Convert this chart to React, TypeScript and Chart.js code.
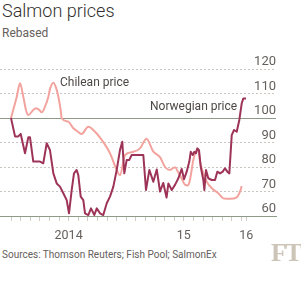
import React, { useEffect, useRef } from 'react';
import { Chart, registerables } from 'chart.js';

Chart.register(...registerables);

// x positions are months since July 2013 (one axis tick per month)
const chileanMonths = [0, 0.6, 0.94, 1.28, 1.56, 1.8, 2.32, 2.6, 2.95, 3.2, 3.54, 3.89, 4.06, 4.41, 4.69, 4.93, 5.17, 5.28, 5.97, 6.49, 6.84, 7.36, 8.05, 8.75, 9.27, 10.31, 11.01, 11.35, 11.88, 12.74, 13.44, 14.11, 14.79, 15.52, 16.04, 16.56, 17.08, 17.4, 17.81, 18.13, 18.44, 18.65, 18.99, 19.34, 19.51, 19.69, 20.03, 20.39, 20.91, 21.59, 22.11, 22.81, 23.51, 23.85, 24.03];
const chileanValues = [100, 108.7, 114.2, 108.7, 103.3, 101.2, 103.3, 104, 103.3, 102.3, 104.6, 108.7, 111.8, 114.4, 112.4, 108.7, 103.3, 99.9, 98.5, 95.8, 94.8, 93.5, 96.4, 94.4, 92, 85.6, 78.8, 76.7, 84.9, 86.2, 87.6, 91.5, 86.5, 84, 80, 78.8, 79.9, 78, 75, 72.7, 72.5, 75, 82.9, 86.9, 87.2, 82.2, 77.4, 74, 71.3, 69.3, 67.2, 67, 67.6, 69.9, 72.2];

const norwegianMonths = [0, 0.42, 0.76, 1.01, 1.46, 1.8, 1.98, 2.32, 3.02, 3.36, 3.72, 4.06, 4.41, 4.76, 5.1, 5.45, 5.8, 6.04, 6.32, 6.56, 6.84, 7.01, 7.26, 7.53, 7.71, 8.05, 8.33, 8.68, 8.93, 9.27, 9.61, 9.97, 10.31, 10.66, 11.01, 11.35, 11.59, 11.8, 12.05, 12.32, 12.57, 13.78, 14.06, 14.41, 14.82, 15.18, 15.52, 15.86, 16.2, 16.39, 16.74, 17.08, 17.43, 17.78, 18.02, 18.3, 18.57, 18.72, 18.93, 19.09, 19.27, 19.41, 19.58, 19.76, 20.03, 20.14, 20.31, 20.55, 20.91, 21.25, 21.49, 21.77, 22.05, 22.29, 22.53, 22.74, 22.99, 23.23, 23.51, 23.78, 24.03, 24.2, 24.48];
const norwegianValues = [100, 92.5, 92.5, 93.5, 85.6, 92.1, 92.1, 82.2, 82.2, 81.5, 89.7, 86.9, 77.4, 73.3, 72, 69.3, 66.5, 61.1, 70.6, 77.4, 78.8, 76.7, 67.9, 66.5, 61.1, 60.4, 63.1, 60.4, 63.1, 61.1, 60.4, 65.2, 67.9, 72, 78.8, 86.9, 90.3, 77.4, 82.9, 82.9, 84.9, 84.9, 70.6, 78.8, 74, 79, 70, 73.5, 67.5, 73.3, 70.6, 72.7, 75.4, 79.2, 75, 78.1, 82.2, 86.2, 84.9, 86.2, 85.6, 87.6, 86.9, 80.1, 74.7, 70.6, 78.8, 75.4, 74.7, 74.7, 78.1, 77.4, 78.1, 79.5, 78.1, 77.4, 93, 95.1, 94.4, 99.2, 106, 108, 108];

const yTickValues = [60, 70, 80, 90, 100, 110, 120];
const xTickMonths = [0, 1, 2, 3, 4, 5, 6, 7, 8, 9, 10, 11, 12, 13, 14, 15, 16, 17, 18, 19, 20, 21, 22, 23, 24, 24.5];
const xLabelMonths = [6, 18, 24.5];
const xLabelTexts = ['2014', '15', '16'];

const FONT = 'Roboto, "Open Sans", sans-serif';
const TEXT_GREY = '#66605c';
const AXIS_GREEN = '#8e9a88';

export default function App() {
  const ref = useRef<HTMLCanvasElement | null>(null);

  useEffect(() => {
    if (!ref.current) return;
    const isSolid = (ctx: any) => ctx.tick && (ctx.tick.value === 100 || ctx.tick.value === 60);
    const chart = new Chart(ref.current, {
      type: 'line',
      data: {
        datasets: [
          {
            label: 'Norwegian price',
            data: norwegianMonths.map((m, i) => ({ x: m, y: norwegianValues[i] })),
            borderColor: '#9d3458',
            borderWidth: 2,
            pointRadius: 0,
            tension: 0,
            borderJoinStyle: 'round',
          },
          {
            label: 'Chilean price',
            data: chileanMonths.map((m, i) => ({ x: m, y: chileanValues[i] })),
            borderColor: '#f3a39e',
            borderWidth: 2,
            pointRadius: 0,
            cubicInterpolationMode: 'monotone',
            borderJoinStyle: 'round',
          },
        ],
      },
      options: {
        animation: false,
        responsive: false,
        devicePixelRatio: 1,
        layout: { padding: { top: 19, right: 25, left: 0, bottom: 0 } },
        plugins: { legend: { display: false }, tooltip: { enabled: false } },
        scales: {
          x: {
            type: 'linear',
            min: -1.146,
            max: 27.6,
            afterBuildTicks: (s: any) => {
              s.ticks = xTickMonths.map((v) => ({ value: v }));
            },
            afterFit: (s: any) => {
              s.height = 29;
            },
            grid: {
              drawOnChartArea: false,
              drawTicks: true,
              tickLength: 5,
              tickColor: '#d2cbc3',
              tickWidth: 1,
            },
            border: { display: true, color: AXIS_GREEN, width: 1 },
            ticks: {
              autoSkip: false,
              maxRotation: 0,
              padding: 7,
              color: TEXT_GREY,
              font: { family: FONT, size: 12.5 },
              callback: (v: any) => {
                const idx = xLabelMonths.findIndex((m) => Math.abs(m - Number(v)) < 0.01);
                return idx >= 0 ? xLabelTexts[idx] : '';
              },
            },
          },
          y: {
            position: 'right',
            min: 60,
            max: 120,
            afterBuildTicks: (s: any) => {
              s.ticks = yTickValues.map((v) => ({ value: v }));
            },
            afterFit: (s: any) => {
              s.width = 0;
            },
            grid: {
              drawTicks: false,
              lineWidth: 1,
              color: (ctx: any) => (isSolid(ctx) ? AXIS_GREEN : '#cbc5bf'),
            },
            border: {
              display: false,
              dash: (ctx: any) => (isSolid(ctx) ? [] : [2, 2]),
            },
            ticks: {
              mirror: true,
              padding: 0,
              labelOffset: -7,
              color: TEXT_GREY,
              font: { family: FONT, size: 13 },
            },
          },
        },
      },
    } as any);
    return () => chart.destroy();
  }, []);

  const abs = (style: React.CSSProperties): React.CSSProperties => ({
    position: 'absolute',
    whiteSpace: 'nowrap',
    fontFamily: FONT,
    ...style,
  });

  return (
    <div style={{ position: 'fixed', left: 0, top: 0, width: 301, height: 282, background: '#ffffff', overflow: 'hidden' }}>
      <div style={abs({ left: 2, top: 2, fontSize: 18, lineHeight: '18px', color: '#33302e', fontWeight: 300 })}>Salmon prices</div>
      <div style={abs({ left: 2, top: 27, fontSize: 12, lineHeight: '12px', color: TEXT_GREY })}>Rebased</div>
      <canvas ref={ref} width={301} height={195} style={{ position: 'absolute', left: 0, top: 50, width: 301, height: 195 }} />
      <div style={abs({ left: 60, top: 75.5, fontSize: 12, lineHeight: '12px', color: '#4d4845' })}>Chilean price</div>
      <div style={abs({ left: 150, top: 100, fontSize: 12, lineHeight: '12px', color: '#4d4845' })}>Norwegian price</div>
      <div style={abs({ left: 2, top: 250, fontSize: 10, lineHeight: '10px', color: TEXT_GREY })}>Sources: Thomson Reuters; Fish Pool; SalmonEx</div>
      <div style={abs({ left: 271, top: 240, fontSize: 26, lineHeight: '26px', color: '#cdc4b8', fontFamily: '"Liberation Serif", "DejaVu Serif", serif', fontWeight: 700, letterSpacing: -2 })}>FT</div>
    </div>
  );
}
